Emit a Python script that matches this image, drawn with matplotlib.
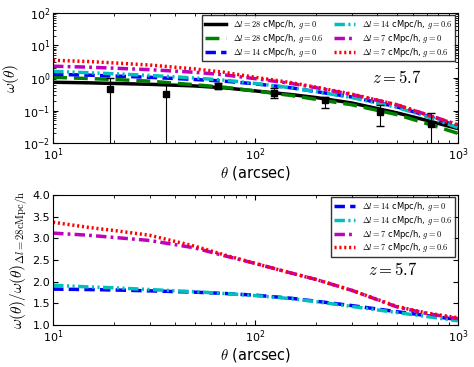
import numpy as np
import matplotlib
matplotlib.use('Agg')
import matplotlib.pyplot as plt
from matplotlib import rcParams

rcParams['mathtext.fontset'] = 'cm'
rcParams['xtick.direction'] = 'in'
rcParams['ytick.direction'] = 'in'
rcParams['xtick.top'] = True
rcParams['ytick.right'] = True

# angular separation grid (arcsec)
theta = [10, 15, 20, 30, 50, 70, 100, 150, 200, 300, 500, 700, 1000]

# top panel: w(theta)
w_28_g0 = [0.74, 0.71, 0.68, 0.64, 0.57, 0.5, 0.4, 0.31, 0.25, 0.17, 0.085, 0.05, 0.028]
w_28_g06 = [1.05, 0.96, 0.9, 0.8, 0.62, 0.52, 0.4, 0.29, 0.22, 0.15, 0.075, 0.04, 0.02]
w_14_g0 = [1.3, 1.22, 1.15, 1.05, 0.9, 0.8, 0.66, 0.5, 0.38, 0.26, 0.13, 0.07, 0.033]
w_14_g06 = [1.6, 1.45, 1.35, 1.2, 1.0, 0.86, 0.68, 0.5, 0.38, 0.25, 0.125, 0.066, 0.03]
w_7_g0 = [2.3, 2.15, 2.0, 1.8, 1.5, 1.25, 0.95, 0.68, 0.5, 0.31, 0.15, 0.075, 0.037]
w_7_g06 = [3.5, 3.2, 2.9, 2.5, 1.9, 1.5, 1.05, 0.72, 0.52, 0.32, 0.15, 0.075, 0.036]

# observed points
obs_theta = [19, 36, 65, 123, 221, 414, 740]
obs_w = [0.45, 0.32, 0.55, 0.34, 0.21, 0.09, 0.04]
obs_lo = [0.001, 0.001, 0.45, 0.25, 0.12, 0.033, 0.001]
obs_hi = [1.0, 0.67, 0.7, 0.49, 0.27, 0.145, 0.087]

# bottom panel: ratio to Delta l = 28 cMpc/h
r_14_g0 = [1.83, 1.82, 1.81, 1.79, 1.76, 1.73, 1.69, 1.62, 1.55, 1.45, 1.31, 1.22, 1.13]
r_14_g06 = [1.92, 1.88, 1.86, 1.82, 1.77, 1.73, 1.68, 1.61, 1.54, 1.43, 1.29, 1.2, 1.1]
r_7_g0 = [3.12, 3.07, 3.02, 2.95, 2.78, 2.6, 2.42, 2.2, 2.05, 1.8, 1.42, 1.27, 1.15]
r_7_g06 = [3.37, 3.25, 3.18, 3.07, 2.82, 2.62, 2.42, 2.2, 2.05, 1.8, 1.43, 1.28, 1.17]

lab = {
    '28_0': r'$\Delta l=28$ cMpc/h, $g=0$',
    '28_6': r'$\Delta l=28$ cMpc/h, $g=0.6$',
    '14_0': r'$\Delta l=14$ cMpc/h, $g=0$',
    '14_6': r'$\Delta l=14$ cMpc/h, $g=0.6$',
    '7_0': r'$\Delta l=7$ cMpc/h, $g=0$',
    '7_6': r'$\Delta l=7$ cMpc/h, $g=0.6$',
}

fig = plt.figure(figsize=(4.74, 3.67), dpi=100)
ax1 = fig.add_axes([0.112, 0.610, 0.854, 0.355])
ax2 = fig.add_axes([0.112, 0.114, 0.854, 0.355])

lw = 2.5
ax1.plot(theta, w_28_g0, color='k', lw=lw, label=lab['28_0'])
ax1.plot(theta, w_28_g06, color='g', lw=lw, dashes=(4, 2), label=lab['28_6'])
ax1.plot(theta, w_14_g0, color='b', lw=lw, dashes=(3, 1.5), label=lab['14_0'])
ax1.plot(theta, w_14_g06, color='c', lw=lw, dashes=(3, 1, 0.6, 1, 0.6, 1), label=lab['14_6'])
ax1.plot(theta, w_7_g0, color='m', lw=lw, dashes=(3, 1.2, 0.8, 1.2), label=lab['7_0'])
ax1.plot(theta, w_7_g06, color='r', lw=lw, dashes=(0.6, 0.8), label=lab['7_6'])

yerr = [np.array(obs_w) - np.array(obs_lo), np.array(obs_hi) - np.array(obs_w)]
ax1.errorbar(obs_theta, obs_w, yerr=yerr, fmt='s', color='k', ms=4, elinewidth=0.8, capsize=3)

ax1.set_xscale('log')
ax1.set_yscale('log')
ax1.set_xlim(10, 1000)
ax1.set_ylim(0.01, 100)
ax1.set_xlabel(r'$\theta$ (arcsec)', fontsize=10.5, labelpad=1)
ax1.set_ylabel(r'$\omega(\theta)$', fontsize=11, labelpad=2)
ax1.text(0.85, 0.5, r'$z=5.7$', transform=ax1.transAxes, fontsize=12, ha='center', va='center')
ax1.legend(loc='upper right', ncol=2, fontsize=6, frameon=True, fancybox=False,
           edgecolor='k', handlelength=2.6, borderaxespad=0.3, columnspacing=1.2,
           labelspacing=0.1, handletextpad=0.8, borderpad=0.3)

ax2.plot(theta, r_14_g0, color='b', lw=lw, dashes=(3, 1.5), label=lab['14_0'])
ax2.plot(theta, r_14_g06, color='c', lw=lw, dashes=(3, 1, 0.6, 1, 0.6, 1), label=lab['14_6'])
ax2.plot(theta, r_7_g0, color='m', lw=lw, dashes=(3, 1.2, 0.8, 1.2), label=lab['7_0'])
ax2.plot(theta, r_7_g06, color='r', lw=lw, dashes=(0.6, 0.8), label=lab['7_6'])
ax2.set_xscale('log')
ax2.set_xlim(10, 1000)
ax2.set_ylim(1.0, 4.0)
ax2.set_yticks(np.arange(1.0, 4.01, 0.5))
ax2.set_xlabel(r'$\theta$ (arcsec)', fontsize=10.5, labelpad=1)
ax2.set_ylabel(r'$\omega(\theta)/\omega(\theta)_{\Delta l=28{\rm cMpc/h}}$', fontsize=11, labelpad=2)
ax2.text(0.84, 0.42, r'$z=5.7$', transform=ax2.transAxes, fontsize=12, ha='center', va='center')
ax2.legend(loc='upper right', fontsize=6, frameon=True, fancybox=False,
           edgecolor='k', handlelength=2.6, borderaxespad=0.3, labelspacing=0.1,
           handletextpad=0.8, borderpad=0.3)

for ax in (ax1, ax2):
    ax.tick_params(labelsize=8, pad=2)

fig.savefig('out.png', dpi=100)
